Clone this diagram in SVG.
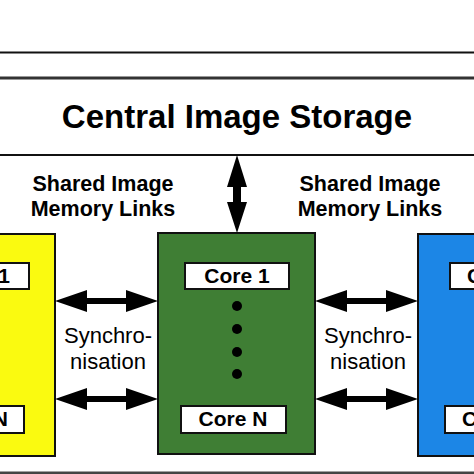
<svg xmlns="http://www.w3.org/2000/svg" width="474" height="474" viewBox="0 0 474 474">
<defs>
<style>
.b{font-family:"Liberation Sans",Arial,sans-serif;font-weight:bold;fill:#000}
.r{font-family:"Liberation Sans",Arial,sans-serif;fill:#000}
.box{stroke:#111;stroke-width:2}
.lbl{fill:#fff;stroke:#111;stroke-width:2}
.arr{fill:#000}
</style>
<path id="harr" d="M0,0 L32,-11 L32,-3 L71,-3 L71,-11 L103,0 L71,11 L71,3 L32,3 L32,11 Z"/>
</defs>
<rect width="474" height="474" fill="#fff"/>
<g id="storage">
<line x1="0" y1="52.5" x2="474" y2="52.5" stroke="#111" stroke-width="1.8"/>
<line x1="-5" y1="78" x2="479" y2="78" stroke="#333" stroke-width="3"/>
<line x1="-5" y1="155" x2="479" y2="155" stroke="#111" stroke-width="1.8"/>
<text class="b" x="237" y="128" font-size="33" text-anchor="middle">Central Image Storage</text>
</g>
<rect x="0" y="471.5" width="474" height="3" fill="#444"/>
<g id="left-node">
<rect class="box" x="-10" y="234" width="65" height="222" fill="#fafa10"/>
<rect class="lbl" x="-60" y="263" width="89" height="26"/>
<text class="b" x="10" y="283" font-size="21" text-anchor="end">Core 1</text>
<rect class="lbl" x="-60" y="406" width="84" height="27"/>
<text class="b" x="8" y="426" font-size="21" text-anchor="end">Core N</text>
</g>
<g id="center-node">
<rect class="box" x="158" y="233" width="157" height="221" fill="#3f7e34"/>
<rect class="lbl" x="185" y="263" width="104" height="26"/>
<text class="b" x="237" y="283" font-size="21" text-anchor="middle">Core 1</text>
<circle cx="237" cy="306" r="5"/>
<circle cx="237" cy="329" r="5"/>
<circle cx="237" cy="352" r="5"/>
<circle cx="237" cy="374" r="5"/>
<rect class="lbl" x="181" y="406" width="105" height="27"/>
<text class="b" x="233" y="426" font-size="21" text-anchor="middle">Core N</text>
</g>
<g id="right-node">
<rect class="box" x="418" y="234" width="70" height="222" fill="#1c86e6"/>
<rect class="lbl" x="450" y="263" width="60" height="26"/>
<text class="b" x="467" y="283" font-size="21">Core 1</text>
<rect class="lbl" x="445" y="406" width="60" height="27"/>
<text class="b" x="462" y="426" font-size="21">Core N</text>
</g>
<g id="connectors" class="arr">
<path d="M237,155 L247,187 L241,187 L241,202 L247,202 L237,233 L227,202 L233,202 L233,187 L227,187 Z"/>
<use href="#harr" x="55" y="301"/>
<use href="#harr" x="55" y="399"/>
<use href="#harr" x="315" y="301"/>
<use href="#harr" x="315" y="399"/>
</g>
<g id="labels">
<text class="b" x="103" y="191" font-size="21.5" text-anchor="middle">Shared Image</text>
<text class="b" x="103" y="216" font-size="21.5" text-anchor="middle">Memory Links</text>
<text class="b" x="370" y="191" font-size="21.5" text-anchor="middle">Shared Image</text>
<text class="b" x="370" y="216" font-size="21.5" text-anchor="middle">Memory Links</text>
<text class="r" x="108" y="343" font-size="22" text-anchor="middle">Synchro-</text>
<text class="r" x="108" y="369" font-size="22" text-anchor="middle">nisation</text>
<text class="r" x="368" y="343" font-size="22" text-anchor="middle">Synchro-</text>
<text class="r" x="368" y="369" font-size="22" text-anchor="middle">nisation</text>
</g>
</svg>
